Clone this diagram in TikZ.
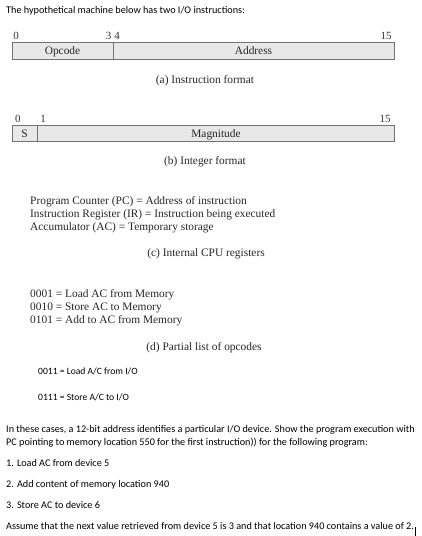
\documentclass[tikz,border=0pt]{standalone}
\usepackage{fontspec}
\setmainfont{Carlito}
\newfontfamily\tms{Liberation Serif}
\begin{document}
\begin{tikzpicture}[x=1pt,y=-1pt,
  body/.style={font=\fontsize{10.2}{12}\selectfont, inner sep=0pt, anchor=base west},
  small/.style={font=\fontsize{9.6}{11}\selectfont, inner sep=0pt, anchor=base west},
  tm/.style={font=\tms\fontsize{11.4}{13}\selectfont, text=black!85, inner sep=0pt, anchor=base west},
  tmc/.style={font=\tms\fontsize{11.4}{13}\selectfont, text=black!85, inner sep=0pt, anchor=base},
  num/.style={font=\tms\fontsize{11}{13}\selectfont, text=black!80, inner sep=0pt, anchor=base},
  field/.style={draw=black!55, fill=black!9, line width=0.7pt}
]
\useasboundingbox (0,0) rectangle (422,536);
\node[body] (intro) at (6,13.5) {The hypothetical machine below has two I/O instructions:};

% (a) instruction format
\draw[field] (12,42) rectangle (113,59);
\draw[field] (113,42) rectangle (394,59);
\node[tmc] (opc) at (62.5,54.5) {Opcode};
\node[tmc] (addr) at (253.5,54.5) {Address};
\node[num] (a0) at (16,39.5) {0};
\node[num] (a3) at (108.5,39.5) {3};
\node[num] (a4) at (117,39.5) {4};
\node[num] (a15) at (386,39.5) {15};
\node[tmc] (capa) at (205,83.5) {(a) Instruction format};

% (b) integer format
\draw[field] (12,125) rectangle (37,141);
\draw[field] (37,125) rectangle (394,141);
\node[tmc] (s) at (24.5,137) {S};
\node[tmc] (mag) at (216,137) {Magnitude};
\node[num] (b0) at (18,122.5) {0};
\node[num] (b1) at (43,122.5) {1};
\node[num] (b15) at (385,122.5) {15};
\node[tmc] (capb) at (205,164.5) {(b) Integer format};

% (c) registers
\node[tm] (c1) at (30,204.5) {Program Counter (PC) = Address of instruction};
\node[tm] (c2) at (30,217.5) {Instruction Register (IR) = Instruction being executed};
\node[tm] (c3) at (30,230.5) {Accumulator (AC) = Temporary storage};
\node[tmc] (capc) at (206,256.5) {(c) Internal CPU registers};

% (d) opcodes
\node[tm] (d1) at (30,297.5) {0001 = Load AC from Memory};
\node[tm] (d2) at (30,310.5) {0010 = Store AC to Memory};
\node[tm] (d3) at (30,323.5) {0101 = Add to AC from Memory};
\node[tmc] (capd) at (204,350.5) {(d) Partial list of opcodes};
\node[small] (io1) at (38,374) {0011 = Load A/C from I/O};
\node[small] (io2) at (38,400) {0111 = Store A/C to I/O};

% paragraph
\node[body] (p1) at (6,432.5) {In these cases, a 12-bit address identifies a particular I/O device. Show the program execution with};
\node[body] (p2) at (6,445.5) {PC pointing to memory location 550 for the first instruction)) for the following program:};
\node[body] (p3) at (6,466.5) {1. Load AC from device 5};
\node[body] (p4) at (6,487) {2. Add content of memory location 940};
\node[body] (p5) at (6,508.5) {3. Store AC to device 6};
\node[body] (p6) at (6,529.5) {Assume that the next value retrieved from device 5 is 3 and that location 940 contains a value of 2.};
\coordinate (cur) at (p6.base east);
\draw[line width=0.6pt] ([xshift=1pt,yshift=3pt]cur) -- ([xshift=1pt,yshift=-10pt]cur);
\end{tikzpicture}
\end{document}
